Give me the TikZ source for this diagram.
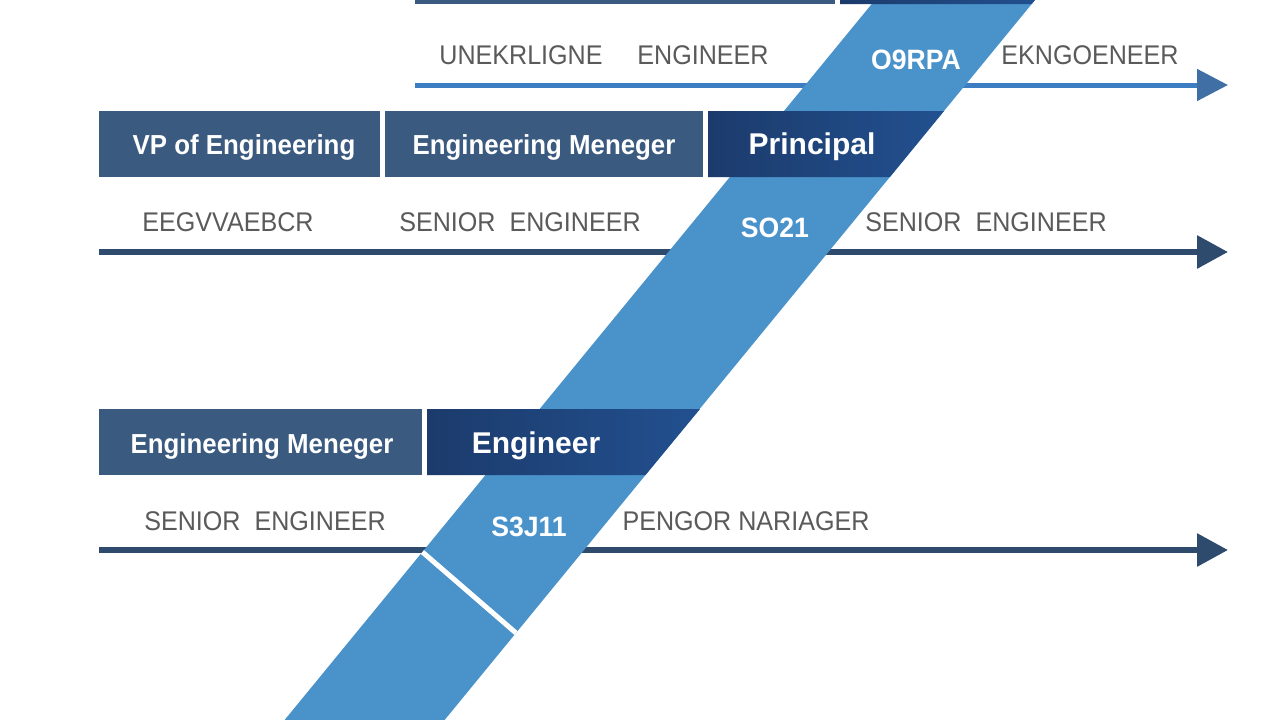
\documentclass[tikz,border=0pt]{standalone}
\usepackage{fontspec}
\setmainfont{Liberation Sans}
\newfontfamily\lblfont[FakeStretch=0.93]{Liberation Sans}
\newfontfamily\bandfont[FakeStretch=0.95]{Liberation Sans}
\newfontfamily\boxfont[FakeStretch=0.94]{Liberation Sans}
\usetikzlibrary{arrows.meta}
\definecolor{slate}{HTML}{3B5A80}
\definecolor{navy}{HTML}{1C3B6C}
\definecolor{navyR}{HTML}{22508F}
\definecolor{bandblue}{HTML}{4A92CA}
\definecolor{linedark}{HTML}{2E4A6C}
\definecolor{lineblue}{HTML}{3D7DC2}
\definecolor{headblue}{HTML}{3F6FA5}
\definecolor{txtgray}{HTML}{5A5A5A}
\begin{document}
\begin{tikzpicture}[x=1pt,y=-1pt,
  slatebox/.style={fill=slate, inner sep=0pt, anchor=north west},
  boxtext/.style={text=white, inner sep=0pt, anchor=base, font=\boxfont\bfseries\fontsize{27.5}{32}\selectfont},
  bigtext/.style={text=white, inner sep=0pt, anchor=base, font=\bfseries\fontsize{30}{34}\selectfont},
  lbl/.style={text=txtgray, inner sep=0pt, font=\lblfont\fontsize{27}{30}\selectfont},
  bandlbl/.style={text=white, inner sep=0pt, font=\bandfont\bfseries\fontsize{28}{32}\selectfont},
  darkline/.style={line width=6pt, draw=linedark, -{Triangle[length=31pt,width=32pt]}},
  blueline/.style={line width=5pt, draw=lineblue, -{Triangle[length=31pt,width=31pt,color=headblue]}}
]
\useasboundingbox (0,0) rectangle (1280,720);
\fill[white] (0,0) rectangle (1280,720);

% connectors (arrows)
\coordinate (r1s) at (415,85);  \coordinate (r1e) at (1228,85);
\coordinate (r2s) at (99,252);  \coordinate (r2e) at (1228,252);
\coordinate (r3s) at (99,550);  \coordinate (r3e) at (1228,550);
\draw[blueline] (r1s) -- (r1e);
\draw[darkline] (r2s) -- (r2e);
\draw[darkline] (r3s) -- (r3e);

% diagonal band
\coordinate (b1) at (883.2,-10);
\coordinate (b2) at (1043.2,-10);
\coordinate (b3) at (436.4,730);
\coordinate (b4) at (276.4,730);
\fill[bandblue] (b1) -- (b2) -- (b3) -- (b4) -- cycle;
\coordinate (s1) at (422.4,552);
\coordinate (s2) at (516,633);
\draw[white, line width=5pt] (s1) -- (s2);

% top row (cut off)
\node[slatebox, minimum width=420pt, minimum height=70pt] (top1) at (415,-66) {};
\shade[left color=navy, right color=navyR] (840,-10) -- (1043.2,-10) -- (1031.7,4) -- (840,4) -- cycle;
\coordinate (top2) at (936,0);

% row 2 boxes
\node[slatebox, minimum width=281pt, minimum height=66pt] (vp) at (99,111) {};
\node[slatebox, minimum width=318pt, minimum height=66pt] (em1) at (385,111) {};
\shade[left color=navy, right color=navyR] (708,111) -- (944,111) -- (889.9,177) -- (708,177) -- cycle;
\node[boxtext] (vpt) at (244,154) {VP of Engineering};
\node[boxtext] (em1t) at (544,154) {Engineering Meneger};
\node[bigtext] (prt) at (812,154) {Principal};

% row 3 boxes
\node[slatebox, minimum width=323pt, minimum height=66pt] (em2) at (99,409) {};
\shade[left color=navy, right color=navyR] (427,409) -- (700,409) -- (645.5,475) -- (427,475) -- cycle;
\node[boxtext] (em2t) at (262,453) {Engineering Meneger};
\node[bigtext] (engt) at (536,453) {Engineer};

% row 1 labels
\node[lbl] (l11) at (521,55) {UNEKRLIGNE};
\node[lbl] (l12) at (703,55) {ENGINEER};
\node[bandlbl] (l13) at (916,60) {O9RPA};
\node[lbl] (l14) at (1090,55) {EKNGOENEER};

% row 2 labels
\node[lbl] (l21) at (228,222) {EEGVVAEBCR};
\node[lbl] (l22) at (520,222) {SENIOR\ \ ENGINEER};
\node[bandlbl] (l23) at (775,228) {SO21};
\node[lbl] (l24) at (986,222) {SENIOR\ \ ENGINEER};

% row 3 labels
\node[lbl] (l31) at (265,521) {SENIOR\ \ ENGINEER};
\node[bandlbl] (l32) at (529,527) {S3J11};
\node[lbl] (l33) at (746,521) {PENGOR NARIAGER};
\end{tikzpicture}
\end{document}
